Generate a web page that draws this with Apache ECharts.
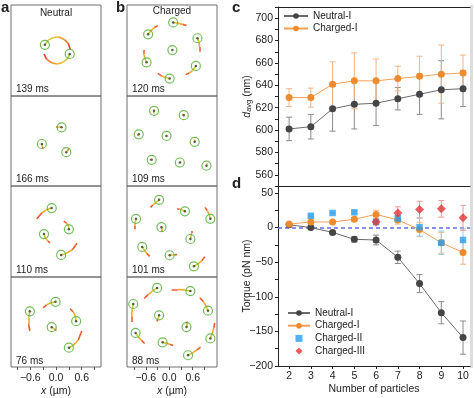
<!DOCTYPE html>
<html>
<head>
<meta charset="utf-8">
<script src="https://cdn.jsdelivr.net/npm/echarts@6/dist/echarts.min.js"></script>
<style>
html, body { margin: 0; padding: 0; background: #fff; }
#main { width: 474px; height: 398px; }
</style>
</head>
<body>
<div id="main"></div>
<script>
// ---- panels a / b : particle positions (first point) and their trails, in µm
const neutralTimes = ['139 ms', '166 ms', '110 ms', '76 ms']
const chargedTimes = ['120 ms', '109 ms', '101 ms', '88 ms']
const neutralTrails = [
  [
    [[-0.26, 0.13], [-0.18, 0.24], [-0.06, 0.30], [0.07, 0.31], [0.20, 0.25], [0.29, 0.16], [0.33, 0.03]],
    [[0.32, -0.08], [0.26, -0.20], [0.15, -0.28], [0.02, -0.31], [-0.11, -0.28], [-0.22, -0.20], [-0.28, -0.08]]
  ],
  [
    [[0.13, 0.32], [0.06, 0.33], [0.0, 0.33]],
    [[-0.33, -0.07], [-0.32, -0.13], [-0.30, -0.18]],
    [[0.24, -0.26], [0.27, -0.22], [0.30, -0.18]]
  ],
  [
    [[-0.10, 0.54], [-0.22, 0.50], [-0.33, 0.43], [-0.45, 0.29]],
    [[0.30, 0.05], [0.29, 0.14], [0.24, 0.20], [0.18, 0.24]],
    [[-0.28, -0.06], [-0.25, -0.15], [-0.19, -0.22], [-0.14, -0.26]],
    [[0.12, -0.54], [0.25, -0.50], [0.38, -0.42], [0.49, -0.27]]
  ],
  [
    [[-0.01, 0.47], [-0.12, 0.45], [-0.22, 0.40], [-0.30, 0.33]],
    [[-0.61, 0.25], [-0.64, 0.10], [-0.64, -0.05], [-0.61, -0.21]],
    [[0.47, 0.02], [0.45, 0.14], [0.40, 0.24], [0.33, 0.31]],
    [[-0.10, -0.12], [-0.04, -0.16], [0.01, -0.20]],
    [[0.30, -0.60], [0.42, -0.53], [0.52, -0.42], [0.60, -0.21]]
  ]
]
const chargedTrails = [
  [
    [[0.10, 0.71], [0.22, 0.69], [0.34, 0.66], [0.44, 0.63]],
    [[0.72, 0.31], [0.76, 0.20], [0.78, 0.08], [0.78, -0.03]],
    [[-0.54, 0.41], [-0.47, 0.50], [-0.38, 0.58], [-0.29, 0.63]],
    [[0.08, 0.01]],
    [[-0.58, -0.30], [-0.63, -0.18], [-0.65, -0.08], [-0.65, 0.01]],
    [[0.68, -0.39], [0.60, -0.50], [0.51, -0.57], [0.42, -0.61]],
    [[0.01, -0.71], [-0.10, -0.68], [-0.20, -0.64], [-0.29, -0.58]]
  ],
  [
    [[-0.39, 0.77], [-0.39, 0.73], [-0.40, 0.70]],
    [[0.37, 0.66], [0.36, 0.68], [0.34, 0.69]],
    [[-0.78, 0.17], [-0.80, 0.15], [-0.81, 0.13]],
    [[-0.07, 0.13], [-0.09, 0.14], [-0.10, 0.15]],
    [[0.65, -0.02], [0.66, 0.01], [0.66, 0.03]],
    [[-0.45, -0.48], [-0.48, -0.48], [-0.50, -0.47]],
    [[0.27, -0.55], [0.29, -0.53], [0.31, -0.52]],
    [[0.95, -0.63], [0.97, -0.60], [0.98, -0.58]]
  ],
  [
    [[-0.26, 0.80], [-0.35, 0.73], [-0.42, 0.67], [-0.48, 0.61]],
    [[0.40, 0.51], [0.33, 0.55], [0.26, 0.57], [0.20, 0.57]],
    [[-0.85, 0.32], [-0.87, 0.23], [-0.88, 0.14], [-0.88, 0.06]],
    [[1.05, 0.32], [1.02, 0.43], [0.97, 0.53], [0.91, 0.61]],
    [[-0.20, 0.11], [-0.20, 0.05], [-0.20, 0.0]],
    [[0.54, -0.19], [0.56, -0.11], [0.57, -0.04], [0.57, 0.01]],
    [[-0.69, -0.39], [-0.63, -0.48], [-0.57, -0.56], [-0.50, -0.63]],
    [[0.01, -0.60], [0.08, -0.60], [0.14, -0.59], [0.20, -0.58]],
    [[0.63, -0.88], [0.73, -0.82], [0.83, -0.74], [0.91, -0.64]]
  ],
  [
    [[-0.31, 0.87], [-0.43, 0.79], [-0.54, 0.70], [-0.64, 0.60]],
    [[0.54, 0.79], [0.38, 0.82], [0.22, 0.83], [0.06, 0.83]],
    [[-0.92, 0.46], [-0.95, 0.31], [-0.96, 0.15], [-0.96, 0.0]],
    [[0.99, 0.29], [0.94, 0.41], [0.87, 0.52], [0.78, 0.62]],
    [[-0.26, 0.17], [-0.28, 0.11], [-0.30, 0.06], [-0.31, 0.01]],
    [[0.44, -0.13], [0.44, -0.07], [0.44, -0.03], [0.44, 0.01]],
    [[1.05, -0.42], [1.10, -0.29], [1.14, -0.15], [1.16, -0.02]],
    [[-0.86, -0.28], [-0.79, -0.38], [-0.71, -0.47], [-0.63, -0.55]],
    [[-0.17, -0.52], [-0.08, -0.54], [0.01, -0.57], [0.10, -0.60]],
    [[0.48, -0.85], [0.59, -0.79], [0.70, -0.72], [0.80, -0.64]]
  ]
]
const posTicks = [-0.9, -0.6, -0.3, 0, 0.3, 0.6, 0.9]
const posLabels = [-0.6, 0, 0.6]

// ---- panels c / d
const particleCounts = [2, 3, 4, 5, 6, 7, 8, 9, 10]
const dNeutral = [601, 603, 619, 623, 624, 628, 632, 636, 637]
const dNeutralErr = [10.5, 11, 20, 22, 20, 10, 18, 26, 16]
const dCharged = [629, 629, 641, 644, 644, 646, 648, 650, 651]
const dChargedErr = [8, 8.5, 20, 25, 19.5, 11, 18, 26, 16]
const dTickLabels = [560, 580, 600, 620, 640, 660, 680, 700]
const dTickMarks = [550, 560, 570, 580, 590, 600, 610, 620, 630, 640, 650, 660, 670, 680, 690, 700, 710]

const tNeutral = [4, 0, -7, -17, -18, -43, -81, -123, -159]
const tNeutralErr = [2, 2, 3, 4, 7, 9, 13, 16, 24]
const tCharged = [5, 8, 8, 12, 19, 11, -3, -22, -36]
const tChargedErr = [2, 2, 2, 3, 6, 6, 10, 15, 17]
const countsII = [3, 4, 5, 6, 7, 8, 9, 10]
const tChargedII = [17, 21, 22, 8, 13, 0.5, -22, -18]
const tChargedIIErr = [1, 1, 2, 3, 5, 13, 17, 16]
const countsIII = [6, 7, 8, 9, 10]
const tChargedIII = [8, 21, 26, 27, 14]
const tChargedIIIErr = [4, 9, 12, 12, 18]
const tTickLabels = [-200, -150, -100, -50, 0, 50]
const tTickMarks = [-200, -175, -150, -125, -100, -75, -50, -25, 0, 25, 50]

const FONT = '"Liberation Sans", Arial, sans-serif'
const minus = v => (v < 0 ? '\u2212' : '') + Math.abs(v)

// trail colour: yellow-green at the particle, red at the far end
const trailStops = [[0, [170, 205, 50]], [0.35, [242, 196, 48]], [0.7, [240, 138, 40]], [1, [228, 38, 56]]]
function trailColor(t) {
  for (let i = 1; i < trailStops.length; i++) {
    if (t <= trailStops[i][0]) {
      const a = trailStops[i - 1], b = trailStops[i]
      const f = (t - a[0]) / (b[0] - a[0])
      const c = a[1].map((v, k) => Math.round(v + (b[1][k] - v) * f))
      return 'rgb(' + c.join(',') + ')'
    }
  }
  return 'rgb(228,38,56)'
}

const grids = [], xAxes = [], yAxes = [], series = []
const rowTops = [5, 96, 186, 277]
const rowHeights = [91, 90, 91, 91]
const columns = [
  { left: 11, xr: [-1.05, 1.05], yr: [-1.05, 1.05], trails: neutralTrails },
  { left: 127, xr: [-1.08, 1.22], yr: [-1.15, 1.15], trails: chargedTrails }
]
columns.forEach((col, ci) => {
  for (let r = 0; r < 4; r++) {
    const g = grids.length
    grids.push({ left: col.left, top: rowTops[r], width: 90, height: rowHeights[r], show: true,
      borderColor: '#6e6e6e', borderWidth: 1, backgroundColor: 'transparent' })
    xAxes.push({
      gridIndex: g, type: 'value', min: col.xr[0], max: col.xr[1], show: r === 3,
      axisLine: { show: false, onZero: false }, splitLine: { show: false },
      axisTick: { show: true, length: 3, customValues: posTicks, lineStyle: { color: '#555' } },
      axisLabel: { customValues: posLabels, margin: 6, fontSize: 10.5, color: '#222',
        formatter: v => v === 0 ? '0.0' : (v < 0 ? '\u2212' : '') + Math.abs(v).toFixed(1) },
      name: '{i|x} (\u00b5m)', nameLocation: 'middle', nameGap: 19, nameMoveOverlap: false,
      nameTextStyle: { fontSize: 10.5, color: '#222', rich: { i: { fontStyle: 'italic', fontSize: 10.5 } } }
    })
    yAxes.push({ gridIndex: g, type: 'value', min: col.yr[0], max: col.yr[1], show: false })
    const trails = col.trails[r]
    const segs = []
    trails.forEach(tr => {
      for (let i = 0; i < tr.length - 1; i++) {
        segs.push({ coords: [tr[i], tr[i + 1]], lineStyle: { color: trailColor((i + 0.5) / (tr.length - 1)) } })
      }
    })
    series.push({ type: 'lines', coordinateSystem: 'cartesian2d', xAxisIndex: g, yAxisIndex: g,
      silent: true, z: 2, lineStyle: { width: 1.6, opacity: 1 }, data: segs })
    series.push({ type: 'scatter', xAxisIndex: g, yAxisIndex: g, silent: true, z: 3,
      symbol: 'circle', symbolSize: 9,
      itemStyle: { color: 'rgba(255,255,255,0)', borderColor: '#4fae2f', borderWidth: 1.2 },
      data: trails.map(tr => tr[0]) })
    series.push({ type: 'scatter', xAxisIndex: g, yAxisIndex: g, silent: true, z: 4,
      symbol: 'circle', symbolSize: 2.5, itemStyle: { color: '#2d3a20' },
      data: trails.map(tr => tr[0]) })
  }
})

// c and d
grids.push({ left: 278, top: 7, width: 192, height: 179 })   // 8
grids.push({ left: 278, top: 186, width: 192, height: 180 })  // 9
const lineAxis = { show: true, onZero: false, lineStyle: { color: '#222', width: 1 } }
xAxes.push({ gridIndex: 8, type: 'value', min: 1.49, max: 10.32, axisLine: lineAxis,
  axisTick: { show: false }, axisLabel: { show: false }, splitLine: { show: false } })
xAxes.push({ gridIndex: 8, type: 'value', position: 'top', min: 1.49, max: 10.32, axisLine: lineAxis,
  axisTick: { show: false }, axisLabel: { show: false }, splitLine: { show: false } })
xAxes.push({ gridIndex: 9, type: 'value', min: 1.49, max: 10.32, axisLine: lineAxis,
  axisTick: { show: true, length: 3, customValues: particleCounts, lineStyle: { color: '#222' } },
  axisLabel: { customValues: particleCounts, margin: 5, fontSize: 10.5, color: '#222' },
  splitLine: { show: false },
  name: 'Number of particles', nameLocation: 'middle', nameGap: 18, nameMoveOverlap: false,
  nameTextStyle: { fontSize: 10.5, color: '#222' } })
yAxes.push({ gridIndex: 8, type: 'value', min: 550, max: 710, axisLine: lineAxis,
  axisTick: { show: true, length: 3, customValues: dTickMarks, lineStyle: { color: '#222' } },
  axisLabel: { customValues: dTickLabels, margin: 5, fontSize: 10.5, color: '#222' },
  splitLine: { show: false },
  name: '{i|d}{s|avg} (nm)', nameLocation: 'middle', nameRotate: 90, nameGap: 25, nameMoveOverlap: false,
  nameTextStyle: { fontSize: 10.5, color: '#222',
    rich: { i: { fontStyle: 'italic', fontSize: 10.5 }, s: { fontSize: 7.5, verticalAlign: 'bottom', padding: [4, 0, 0, 0] } } } })
yAxes.push({ gridIndex: 9, type: 'value', min: -200, max: 60, axisLine: lineAxis,
  axisTick: { show: true, length: 3, customValues: tTickMarks, lineStyle: { color: '#222' } },
  axisLabel: { customValues: tTickLabels, margin: 5, fontSize: 10.5, color: '#222', formatter: minus },
  splitLine: { show: false },
  name: 'Torque (pN nm)', nameLocation: 'middle', nameRotate: 90, nameGap: 25, nameMoveOverlap: false,
  nameTextStyle: { fontSize: 10.5, color: '#222' } })

function errorBars(color) {
  return function (params, api) {
    const x = api.value(0)
    const lo = api.coord([x, api.value(1)])
    const hi = api.coord([x, api.value(2)])
    const st = { stroke: color, lineWidth: 1 }
    return { type: 'group', children: [
      { type: 'line', shape: { x1: lo[0], y1: lo[1], x2: hi[0], y2: hi[1] }, style: st },
      { type: 'line', shape: { x1: lo[0] - 3, y1: lo[1], x2: lo[0] + 3, y2: lo[1] }, style: st },
      { type: 'line', shape: { x1: hi[0] - 3, y1: hi[1], x2: hi[0] + 3, y2: hi[1] }, style: st }
    ] }
  }
}
function errSeries(name, xs, ys, es, color, xi, yi) {
  return { type: 'custom', name: name, xAxisIndex: xi, yAxisIndex: yi, silent: true, z: 3,
    renderItem: errorBars(color), encode: { x: 0, y: [1, 2] },
    data: xs.map((x, i) => [x, ys[i] - es[i], ys[i] + es[i]]) }
}
const pairs = (xs, ys) => xs.map((x, i) => [x, ys[i]])
const COL = { neutral: '#454545', neutralLine: '#6a6a6a', neutralErr: '#8a8a8a',
  charged: '#ef8b2f', chargedLine: '#f2a055', chargedErr: '#f5b585',
  c2: '#2a9fee', c2Err: '#8fcdf4', c3: '#e6333b', c3Err: '#f29a9d' }

series.push(errSeries('nErrC', particleCounts, dNeutral, dNeutralErr, COL.neutralErr, 8, 8))
series.push({ type: 'line', name: 'Neutral-I', xAxisIndex: 8, yAxisIndex: 8, z: 4,
  symbol: 'circle', symbolSize: 7, data: pairs(particleCounts, dNeutral),
  lineStyle: { color: COL.neutralLine, width: 1 }, itemStyle: { color: COL.neutral } })
series.push(errSeries('cErrC', particleCounts, dCharged, dChargedErr, COL.chargedErr, 8, 8))
series.push({ type: 'line', name: 'Charged-I', xAxisIndex: 8, yAxisIndex: 8, z: 5,
  symbol: 'circle', symbolSize: 7, data: pairs(particleCounts, dCharged),
  lineStyle: { color: COL.chargedLine, width: 1 }, itemStyle: { color: COL.charged } })

series.push(errSeries('nErrD', particleCounts, tNeutral, tNeutralErr, COL.neutralErr, 10, 9))
series.push(errSeries('cErrD', particleCounts, tCharged, tChargedErr, COL.chargedErr, 10, 9))
series.push(errSeries('c2ErrD', countsII, tChargedII, tChargedIIErr, COL.c2Err, 10, 9))
series.push(errSeries('c3ErrD', countsIII, tChargedIII, tChargedIIIErr, COL.c3Err, 10, 9))
series.push({ type: 'line', name: 'Neutral-I', xAxisIndex: 10, yAxisIndex: 9, z: 4,
  symbol: 'circle', symbolSize: 7, data: pairs(particleCounts, tNeutral),
  lineStyle: { color: COL.neutralLine, width: 1 }, itemStyle: { color: COL.neutral },
  markLine: { silent: true, symbol: 'none', label: { show: false }, z: 2,
    lineStyle: { type: [4, 3], color: '#5f6fe0', width: 1.5, opacity: 1 },
    emphasis: { disabled: true }, data: [{ yAxis: 0 }] } })
series.push({ type: 'line', name: 'Charged-I', xAxisIndex: 10, yAxisIndex: 9, z: 5,
  symbol: 'circle', symbolSize: 7, data: pairs(particleCounts, tCharged),
  lineStyle: { color: COL.chargedLine, width: 1 }, itemStyle: { color: COL.charged } })
series.push({ type: 'scatter', name: 'Charged-II', xAxisIndex: 10, yAxisIndex: 9, z: 6,
  symbol: 'rect', symbolSize: 6.5, data: pairs(countsII, tChargedII),
  itemStyle: { color: COL.c2 } })
series.push({ type: 'scatter', name: 'Charged-III', xAxisIndex: 10, yAxisIndex: 9, z: 7,
  symbol: 'diamond', symbolSize: 9, data: pairs(countsIII, tChargedIII),
  itemStyle: { color: COL.c3 } })

const txt = (text, x, y, font, align) => ({ type: 'text', silent: true,
  style: { text: text, x: x, y: y, font: font, fill: '#222', textAlign: align || 'left', textVerticalAlign: 'middle' } })
const graphic = [
  txt('a', 1, 8, 'bold 15px ' + FONT), txt('b', 116, 8, 'bold 15px ' + FONT),
  txt('c', 232, 8, 'bold 15px ' + FONT), txt('d', 232, 184, 'bold 15px ' + FONT),
  txt('Neutral', 56, 13, '10px ' + FONT, 'center'), txt('Charged', 172, 11, '10px ' + FONT, 'center'),
  { type: 'rect', silent: true, shape: { x: 470, y: 5, width: 3, height: 363 }, style: { fill: '#dcdcdc' } }
]
neutralTimes.forEach((t, r) => graphic.push(txt(t, 16, rowTops[r] + rowHeights[r] - 7, '10px ' + FONT)))
chargedTimes.forEach((t, r) => graphic.push(txt(t, 132, rowTops[r] + rowHeights[r] - 7, '10px ' + FONT)))

const legendText = { fontSize: 10, color: '#222' }
const option = {
  animation: false,
  textStyle: { fontFamily: FONT },
  grid: grids, xAxis: xAxes, yAxis: yAxes,
  legend: [
    { left: 283, top: 11, padding: 0, orient: 'vertical', itemWidth: 24, itemHeight: 7, itemGap: 2.5,
      data: ['Neutral-I', 'Charged-I'], textStyle: legendText, selectedMode: false },
    { left: 287, top: 308, padding: 0, orient: 'vertical', itemWidth: 22, itemHeight: 7, itemGap: 2.7,
      symbolKeepAspect: true,
      data: ['Neutral-I', 'Charged-I',
        { name: 'Charged-II', icon: 'path://M0,0H10V10H0Z' },
        { name: 'Charged-III', icon: 'path://M5,0L10,5L5,10L0,5Z' }],
      textStyle: legendText, selectedMode: false }
  ],
  graphic: graphic,
  series: series
}
const myChart = echarts.init(document.getElementById('main'))
myChart.setOption(option)
</script>
</body>
</html>
